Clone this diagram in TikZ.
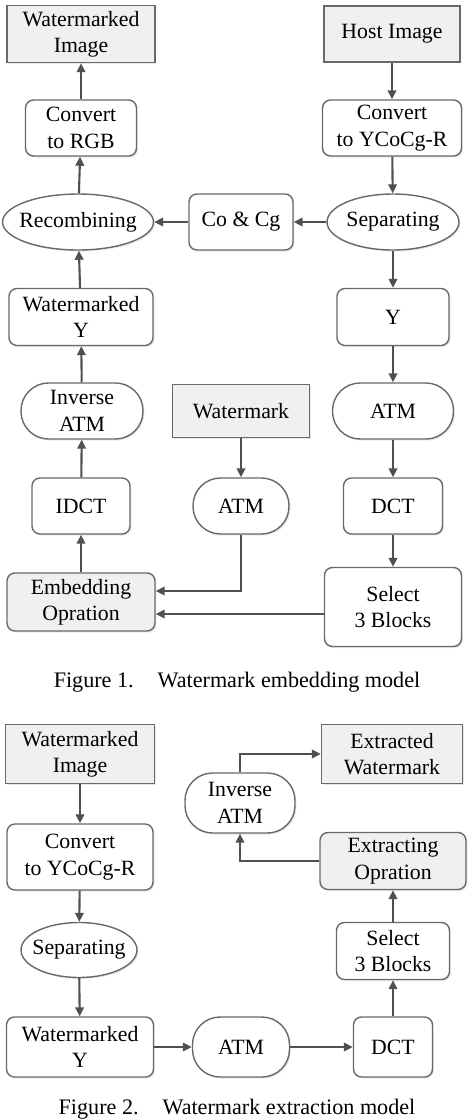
\documentclass[tikz,border=0pt]{standalone}
\usepackage{fontspec}
\setmainfont{Liberation Serif}
\usetikzlibrary{arrows.meta,shapes.geometric,shadows}

\definecolor{edgegray}{RGB}{80,80,80}
\definecolor{linegray}{RGB}{105,105,105}
\definecolor{boxgray}{RGB}{240,240,240}

\begin{document}
\begin{tikzpicture}[x=0.02cm,y=-0.02cm,
	every node/.style={inner sep=0pt,align=center,font=\fontsize{12.4}{15}\selectfont},
	base/.style={draw=linegray,line width=0.8pt,fill=white,
		drop shadow={shadow xshift=0.03cm,shadow yshift=-0.03cm,opacity=0.18}},
	plainbox/.style={base,rectangle,fill=boxgray},
	roundbox/.style={base,rectangle,rounded corners=4.5pt},
	graybox/.style={roundbox,fill=boxgray},
	stadium/.style={base,rectangle,rounded corners=0.55cm},
	oval/.style={base,ellipse,inner xsep=-6pt,inner ysep=-3pt},
	arr/.style={draw=edgegray,line width=1.2pt,-{Triangle[length=0.18cm,width=0.17cm]}},
	caption/.style={font=\fontsize{12.6}{15}\selectfont,anchor=base}]
	\useasboundingbox (0,0) rectangle (474,1120);
	% Figure 1
	\node[plainbox,minimum width=2.96cm,minimum height=1.14cm] (wimg) at (81,34) {Watermarked\\Image};
	\node[roundbox,minimum width=2.22cm,minimum height=1.12cm] (rgb) at (81,128) {Convert\\to RGB};
	\node[oval,minimum width=3.02cm,minimum height=1.12cm] (recomb) at (78,222) {Recombining};
	\node[roundbox,minimum width=2.08cm,minimum height=1.12cm] (cocg) at (241,222) {Co \& Cg};
	\node[plainbox,minimum width=2.72cm,minimum height=1.12cm] (host) at (392,34) {Host Image};
	\node[roundbox,minimum width=2.78cm,minimum height=1.12cm] (ycocg) at (392,128) {Convert\\to YCoCg-R};
	\node[oval,minimum width=2.64cm,minimum height=1.12cm] (sep) at (393,222) {Separating};
	\node[roundbox,minimum width=2.88cm,minimum height=1.14cm] (wy) at (81,317) {Watermarked\\Y};
	\node[roundbox,minimum width=2.24cm,minimum height=1.14cm] (y) at (393,317) {Y};
	\node[stadium,minimum width=2.44cm,minimum height=1.12cm] (invatm) at (82,411) {Inverse\\ATM};
	\node[plainbox,minimum width=2.74cm,minimum height=1.06cm] (wm) at (241,411) {Watermark};
	\node[stadium,minimum width=2.42cm,minimum height=1.12cm] (atm) at (393,411) {ATM};
	\node[roundbox,minimum width=1.96cm,minimum height=1.12cm] (idct) at (81,506) {IDCT};
	\node[stadium,minimum width=1.92cm,minimum height=1.12cm] (watm) at (241,506) {ATM};
	\node[roundbox,minimum width=1.98cm,minimum height=1.12cm] (dct) at (393,506) {DCT};
	\node[graybox,minimum width=2.96cm,minimum height=1.16cm] (embed) at (81,602) {Embedding\\Opration};
	\node[roundbox,minimum width=2.74cm,minimum height=1.58cm] (sel) at (393,607) {Select\\3 Blocks};
	\draw[arr] (host) -- (ycocg);
	\draw[arr] (ycocg) -- (sep);
	\draw[arr] (sep) -- (cocg);
	\draw[arr] (cocg) -- (recomb);
	\draw[arr] (sep) -- (y);
	\draw[arr] (y) -- (atm);
	\draw[arr] (atm) -- (dct);
	\draw[arr] (dct) -- (sel);
	\draw[arr] (wm) -- (watm);
	\draw[arr] (watm.south) |- ([yshift=0.22cm]embed.east);
	\draw[arr] ([yshift=-0.14cm]sel.west) -- ([yshift=-0.14cm]sel.west -| embed.east);
	\draw[arr] (embed) -- (idct);
	\draw[arr] (idct) -- (invatm);
	\draw[arr] (invatm) -- (wy);
	\draw[arr] (wy) -- (recomb);
	\draw[arr] (recomb) -- (rgb);
	\draw[arr] (rgb) -- (wimg);
	\node[caption] (cap1) at (237,687) {Figure 1.\hspace{0.48cm}Watermark embedding model};
	% Figure 2
	\node[plainbox,minimum width=2.98cm,minimum height=1.18cm] (wimg2) at (80,754) {Watermarked\\Image};
	\node[roundbox,minimum width=2.92cm,minimum height=1.32cm] (ycocg2) at (80,857) {Convert\\to YCoCg-R};
	\node[oval,minimum width=2.32cm,minimum height=1.10cm] (sep2) at (79,950) {Separating};
	\node[roundbox,minimum width=2.94cm,minimum height=1.20cm] (wy2) at (80,1047) {Watermarked\\Y};
	\node[stadium,minimum width=1.94cm,minimum height=1.20cm] (atm2) at (241,1047) {ATM};
	\node[roundbox,minimum width=1.58cm,minimum height=1.20cm] (dct2) at (393,1047) {DCT};
	\node[roundbox,minimum width=2.26cm,minimum height=1.14cm] (sel2) at (393,951) {Select\\3 Blocks};
	\node[graybox,minimum width=2.92cm,minimum height=1.14cm] (ext) at (393,861) {Extracting\\Opration};
	\node[stadium,minimum width=2.20cm,minimum height=1.20cm] (invatm2) at (240,803) {Inverse\\ATM};
	\node[plainbox,minimum width=2.82cm,minimum height=1.18cm] (exwm) at (392,754) {Extracted\\Watermark};
	\draw[arr] (wimg2) -- (ycocg2);
	\draw[arr] (ycocg2) -- (sep2);
	\draw[arr] (sep2) -- (wy2);
	\draw[arr] (wy2) -- (atm2);
	\draw[arr] (atm2) -- (dct2);
	\draw[arr] (dct2) -- (sel2);
	\draw[arr] (sel2) -- (ext);
	\draw[arr] (ext.west) -| (invatm2.south);
	\draw[arr] (invatm2.north) |- (exwm.west);
	\node[caption] (cap2) at (237,1114) {Figure 2.\hspace{0.48cm}Watermark extraction model};
\end{tikzpicture}
\end{document}
